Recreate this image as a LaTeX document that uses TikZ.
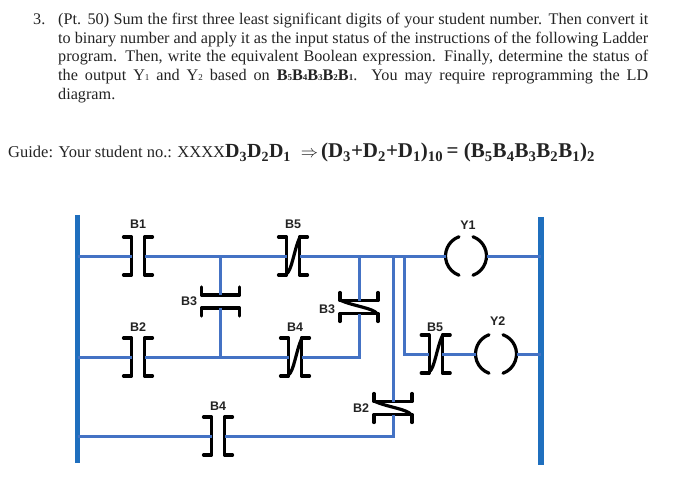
\documentclass[tikz,border=0pt]{standalone}
\usepackage{fontspec}
\setmainfont{Liberation Serif}
\newfontfamily\lblfont{Liberation Sans}
\usetikzlibrary{positioning}
\definecolor{wireblue}{RGB}{68,114,196}
\definecolor{railblue}{RGB}{31,111,190}
\definecolor{inktext}{RGB}{35,35,35}
\tikzset{
  wire/.style={draw=wireblue,line width=3pt},
  rail/.style={draw=railblue,line width=5.5pt},
  bracket/.style={draw=black,line width=3.2pt,line cap=round,line join=round},
  contact/.style={minimum width=13pt,minimum height=38pt,inner sep=0pt,outer sep=0pt},
  coil/.style={circle,minimum size=41pt,inner sep=0pt,outer sep=0pt},
  lbl/.style={font=\lblfont\bfseries\fontsize{12.5}{14}\selectfont,text=inktext,inner sep=0pt},
  bodyline/.style={anchor=base west,inner sep=0pt,text=inktext,font=\fontsize{16.2}{18}\selectfont},
  guideline/.style={anchor=base west,inner sep=0pt,text=inktext,font=\fontsize{16.5}{20}\selectfont},
}
\newcommand{\contactno}[4]{
\begin{scope}[shift={(#3,#4)},rotate=#2]
\node[contact,transform shape] (#1) at (0,0) {};
\draw[bracket] (-14.5,19) -- (-6.5,19) -- (-6.5,-19) -- (-14.5,-19);
\draw[bracket] (14.5,19) -- (6.5,19) -- (6.5,-19) -- (14.5,-19);
\end{scope}}
\newcommand{\contactnc}[4]{
\contactno{#1}{#2}{#3}{#4}
\begin{scope}[shift={(#3,#4)},rotate=#2]
\draw[bracket] (-6.5,-18) .. controls (-1,-14) and (1,6) .. (6.5,18);
\end{scope}}
\newcommand{\coilout}[3]{
\node[coil] (#1) at (#2,#3) {};
\draw[bracket] (#1.110) arc (110:250:20.5);
\draw[bracket] (#1.70) arc (70:-70:20.5);}
\newcommand{\bsub}[1]{\textsubscript{#1}}
\newcommand{\tinysub}[1]{{\fontsize{9}{9}\selectfont #1}}
\begin{document}
\begin{tikzpicture}[x=1pt,y=1pt]
\useasboundingbox (0,0) rectangle (700,-502);
\node[bodyline] (num) at (33,-25) {3.};
\node[bodyline] (line1) at (58,-25) {\makebox[590pt][s]{(Pt. 50) Sum the first three least significant digits of your student number. Then convert it}};
\node[bodyline] (line2) at (58,-43.5) {\makebox[590pt][s]{to binary number and apply it as the input status of the instructions of the following Ladder}};
\node[bodyline] (line3) at (58,-62) {\makebox[590pt][s]{program. Then, write the equivalent Boolean expression. Finally, determine the status of}};
\node[bodyline] (line4) at (58,-81) {\makebox[590pt][s]{the output Y\tinysub{1} and Y\tinysub{2} based on \textbf{B\tinysub{5}B\tinysub{4}B\tinysub{3}B\tinysub{2}B\tinysub{1}}. You may require reprogramming the LD}};
\node[bodyline] (line5) at (58,-100) {diagram.};
\node[guideline] (guide) at (8,-158) {Guide: Your student no.: XXXX\textbf{\fontsize{20}{22}\selectfont D\bsub{3}D\bsub{2}D\bsub{1}}\hspace{10pt}$\Rightarrow$\,\textbf{\fontsize{21}{22}\selectfont (D\bsub{3}+D\bsub{2}+D\bsub{1})\bsub{10}\,= (B\bsub{5}B\bsub{4}B\bsub{3}B\bsub{2}B\bsub{1})\bsub{2}}};
\coordinate (lefttop) at (77.7,-215);
\coordinate (leftbot) at (77.7,-463);
\coordinate (righttop) at (541,-217);
\coordinate (rightbot) at (541,-465);
\coordinate (left1) at (77.7,-256);
\coordinate (left2) at (77.7,-357);
\coordinate (left3) at (77.7,-436);
\coordinate (right1) at (541,-256);
\coordinate (right2) at (541,-354);
\coordinate (top3) at (220.5,-256);
\coordinate (mid3) at (220.5,-357);
\coordinate (midnc3) at (359,-357);
\coordinate (topnc3) at (359,-256);
\coordinate (topnc2) at (393,-256);
\coordinate (botnc2) at (393,-436);
\coordinate (topbr) at (404,-256);
\coordinate (botbr) at (404,-354);
\draw[rail] (lefttop) -- (leftbot);
\draw[rail] (righttop) -- (rightbot);
\contactno{b1}{0}{138}{-256}
\contactnc{b5}{0}{293}{-256}
\contactno{b3}{90}{220.5}{-301.5}
\contactno{b2}{0}{138}{-357}
\contactnc{b4}{0}{295}{-357}
\contactnc{b3n}{90}{359}{-307}
\contactnc{b2n}{90}{393}{-408}
\contactno{b4n}{0}{218}{-436}
\contactnc{b5n}{0}{435.7}{-354}
\coilout{y1}{466}{-256}
\coilout{y2}{496}{-354}
\draw[wire] (left1) -- (b1.west);
\draw[wire] (b1.east) -- (b5.west);
\draw[wire] (b5.east) -- (y1.west);
\draw[wire] (y1.east) -- (right1);
\draw[wire] (top3) -- (b3.east);
\draw[wire] (b3.west) -- (mid3);
\draw[wire] (left2) -- (b2.west);
\draw[wire] (b2.east) -- (b4.west);
\draw[wire] (b4.east) -- (midnc3) -- (b3n.west);
\draw[wire] (b3n.east) -- (topnc3);
\draw[wire] (topnc2) -- (b2n.east);
\draw[wire] (b2n.west) -- (botnc2) -- (b4n.east);
\draw[wire] (left3) -- (b4n.west);
\draw[wire] (topbr) -- (botbr) -- (b5n.west);
\draw[wire] (b5n.east) -- (y2.west);
\draw[wire] (y2.east) -- (right2);
\node[lbl] (lb1) at (138,-224.5) {B1};
\node[lbl] (lb5) at (293,-224.5) {B5};
\node[lbl] (lb3) at (189,-301.5) {B3};
\node[lbl] (lb2) at (138,-327) {B2};
\node[lbl] (lb4) at (295,-327) {B4};
\node[lbl] (lb3n) at (327,-309) {B3};
\node[lbl] (lb5n) at (435,-327.5) {B5};
\node[lbl] (lb2n) at (361,-408) {B2};
\node[lbl] (lb4n) at (218,-406) {B4};
\node[lbl] (ly1) at (468,-225) {Y1};
\node[lbl] (ly2) at (497.7,-321) {Y2};
\end{tikzpicture}
\end{document}
